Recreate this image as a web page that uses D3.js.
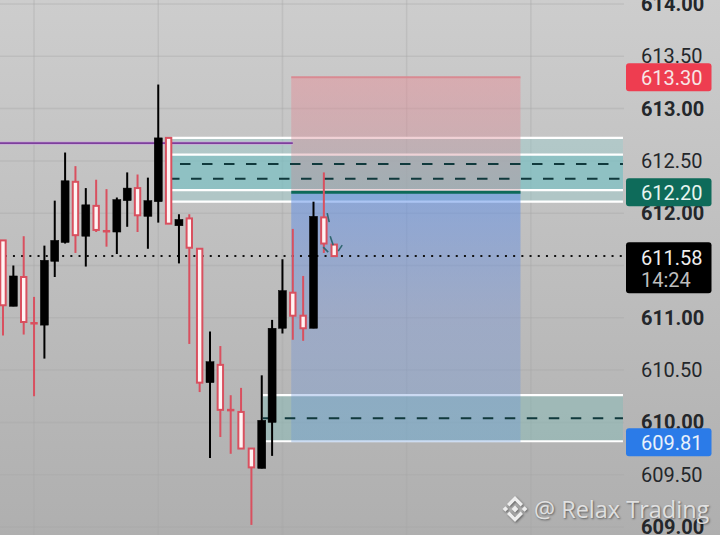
<!DOCTYPE html>
<html>
<head>
<meta charset="utf-8">
<script src="https://cdn.jsdelivr.net/npm/d3@7"></script>
<style>
  html, body { margin: 0; padding: 0; background: #bdbdbd; }
  svg { display: block; font-family: Roboto, sans-serif; }
</style>
</head>
<body>
<div id="chart"></div>
<script>
// candles, oldest first
const opens  = [611.12,611.40,610.96,610.95,611.55,611.74,612.31,611.79,612.08,611.84,611.83,612.13,612.24,611.98,612.12,612.72,611.90,611.94,611.67,610.38,610.58,610.12,610.12,609.75,609.57,610.02,610.90,611.26,611.02,610.90,611.97,611.71,611.59];
const closes = [611.74,611.11,611.39,610.95,610.93,611.54,611.72,612.30,611.78,612.07,611.83,611.82,612.12,612.24,611.97,612.11,612.72,611.88,611.95,611.66,610.38,610.55,610.12,610.10,609.75,609.56,610.00,610.90,611.24,611.02,610.90,611.96,611.70];
const highs  = [611.74,611.50,611.78,611.20,611.69,612.12,612.58,612.45,612.24,612.32,612.23,612.15,612.39,612.37,612.34,613.23,612.72,611.99,611.99,611.66,610.87,610.73,610.26,610.33,609.75,610.45,610.98,611.56,611.85,611.40,612.11,612.39,611.70];
const lows   = [610.83,611.11,610.84,610.25,610.61,611.39,611.71,611.62,611.49,611.82,611.68,611.61,611.87,611.82,611.66,611.91,611.90,611.52,610.75,610.29,609.66,609.86,609.70,609.75,609.02,609.56,609.68,610.85,610.79,610.78,610.90,611.62,611.59];
// red = up bar here
const upFlags = [1,0,1,1,0,0,0,1,0,1,1,0,0,1,0,0,1,0,1,1,0,1,1,1,1,0,0,0,1,1,0,1,1];

const priceTicks = [614,613.5,613,612.5,612,611.5,611,610.5,610,609.5,609];
const hiddenTicks = [611.5];
const gridBars = [3,15,27,39,51];

const lastPrice = 611.58;
const lastPriceLine = 611.59;
const countdown = "14:24";
const stopPrice = 613.30;
const entryPrice = 612.20;
const targetPrice = 609.81;

// zones: [barFrom, barTo, top, bottom]
const upperZone = [16.3, 59.9, 612.72, 612.11];
const upperZoneInner = [16.3, 59.9, 612.56, 612.22];
const upperDashes = [612.47, 612.33];
const lowerZone = [25.1, 59.9, 610.26, 609.82];
const lowerDash = 610.04;
const purpleLevel = 612.67;

const W = 720, H = 535;
const plotRight = 624;

const x = d3.scaleLinear().domain([0, 32]).range([3, 334.2]);
const y = d3.scaleLinear().domain([609, 614]).range([527, 4]);

const svg = d3.select("#chart").append("svg").attr("width", W).attr("height", H);
const defs = svg.append("defs");

function vGradient(id, stops) {
  const g = defs.append("linearGradient").attr("id", id)
    .attr("x1", 0).attr("x2", 0).attr("y1", 0).attr("y2", 1);
  stops.forEach(s => g.append("stop").attr("offset", s[0]).attr("stop-color", s[1]).attr("stop-opacity", s[2]));
}
vGradient("bg", [[0, "#cdcdcd", 1], [1, "#afafaf", 1]]);
vGradient("redBox", [[0, "#e98a94", 0.46], [1, "#c98a96", 0.34]]);
vGradient("blueBox", [[0, "#5a8ce8", 0.52], [0.5, "#6a8cd8", 0.36], [1, "#6a98d8", 0.34]]);

svg.append("rect").attr("width", W).attr("height", H).attr("fill", "url(#bg)");

// grid
svg.append("g").selectAll("line").data(priceTicks).join("line")
  .attr("x1", 0).attr("x2", plotRight)
  .attr("y1", d => y(d)).attr("y2", d => y(d))
  .attr("stroke", "#a6a6a6").attr("stroke-opacity", 0.35).attr("stroke-width", 1.5);
svg.append("g").selectAll("line").data(gridBars).join("line")
  .attr("x1", d => x(d)).attr("x2", d => x(d))
  .attr("y1", 0).attr("y2", H)
  .attr("stroke", "#a6a6a6").attr("stroke-opacity", 0.35).attr("stroke-width", 1.5);

function zone(z, fill) {
  return svg.append("rect")
    .attr("x", x(z[0])).attr("width", x(z[1]) - x(z[0]))
    .attr("y", y(z[2])).attr("height", y(z[3]) - y(z[2]))
    .attr("fill", fill);
}
function hline(a, b, price, color, width, dash) {
  return svg.append("line")
    .attr("x1", x(a)).attr("x2", x(b))
    .attr("y1", y(price)).attr("y2", y(price))
    .attr("stroke", color).attr("stroke-width", width)
    .attr("stroke-dasharray", dash || null);
}

// support / resistance zones
zone(upperZone, "rgba(150,205,205,0.40)");
zone(upperZoneInner, "rgba(90,185,190,0.38)");
zone(lowerZone, "rgba(120,190,185,0.38)");
[upperZone[2], upperZoneInner[2], upperZoneInner[3], upperZone[3]].forEach(p =>
  hline(upperZone[0], upperZone[1], p, "#fff", 2.2));
[lowerZone[2], lowerZone[3]].forEach(p => hline(lowerZone[0], lowerZone[1], p, "#fff", 2.2));

// position box
const boxFrom = 27.85, boxTo = 50;
zone([boxFrom, boxTo, stopPrice, entryPrice], "url(#redBox)");
zone([boxFrom, boxTo, entryPrice, targetPrice], "url(#blueBox)");
hline(boxFrom, boxTo, stopPrice, "#d98a92", 2);
hline(boxFrom, boxTo, entryPrice, "#0d6a58", 3);

// purple level
hline(-3, 28, purpleLevel, "#c9a8d8", 3.4);
hline(-3, 28, purpleLevel, "#7d3f9c", 1.8);

// dashed levels
hline(17.1, 59.9, upperDashes[0], "#10393c", 2, "10.5 11.5");
hline(16.3, 59.9, upperDashes[1], "#10393c", 2, "10.5 11.5").attr("stroke-dashoffset", 2.7 + 0);
hline(25.1, 59.9, lowerDash, "#10393c", 2, "10.5 11.5");

// last price dotted
hline(-3, 59.9, lastPriceLine, "#111", 2, "2 6.2");

// candles
const candles = opens.map((o, i) => ({ i, o, c: closes[i], h: highs[i], l: lows[i], up: upFlags[i] === 1 }));
const RED = "#d9505f";
const gc = svg.append("g").selectAll("g").data(candles).join("g");
gc.append("line")
  .attr("x1", d => x(d.i)).attr("x2", d => x(d.i))
  .attr("y1", d => y(d.h)).attr("y2", d => y(d.l))
  .attr("stroke", d => d.up ? RED : "#000").attr("stroke-width", 2);
gc.append("rect")
  .attr("x", d => x(d.i) - (d.up ? 5.4 : 8) / 2)
  .attr("width", d => d.up ? 5.4 : 8)
  .attr("y", d => y(Math.max(d.o, d.c)))
  .attr("height", d => Math.max(0.5, Math.abs(y(d.o) - y(d.c))))
  .attr("fill", d => d.up ? "#fff4f4" : "#000")
  .attr("stroke", d => d.up ? RED : "#000")
  .attr("stroke-width", d => d.up ? 2 : 0.5);

// cursor ticks by the last bar
const cursorMarks = [[-11, -10, -6, -5], [-4, -21, -1, -12], [4, -6, 8, -12], [-7, -44, -5, -35]];
svg.append("g").attr("transform", `translate(${x(32)},${y(lastPrice)})`)
  .selectAll("line").data(cursorMarks).join("line")
  .attr("x1", d => d[0]).attr("y1", d => d[1]).attr("x2", d => d[2]).attr("y2", d => d[3])
  .attr("stroke", "#2f6670").attr("stroke-width", 1.6);

// price axis
const axis = d3.axisRight(y).tickValues(priceTicks.filter(t => !hiddenTicks.includes(t)))
  .tickFormat(d3.format(".2f")).tickSize(0).tickPadding(0);
const axisG = svg.append("g").attr("transform", "translate(641,0)").call(axis);
axisG.select(".domain").remove();
axisG.selectAll("text")
  .attr("font-family", "Roboto, sans-serif").attr("font-size", 20)
  .attr("font-weight", d => d % 1 === 0 ? 700 : 400)
  .attr("fill", "#24272b");

// price tags
function tag(price, fill, label, h, color) {
  const g = svg.append("g");
  g.append("rect").attr("x", 626).attr("width", 85.5)
    .attr("y", y(price) - h / 2).attr("height", h).attr("rx", 3).attr("fill", fill);
  g.append("text").attr("x", 641).attr("y", y(price) + 7.5)
    .attr("font-size", 20).attr("fill", color).text(label);
}
tag(stopPrice, "#ee3d50", stopPrice.toFixed(2), 28, "#f7e6e6");
tag(entryPrice, "#0e6b5a", entryPrice.toFixed(2), 28, "#e8f5f0");
tag(targetPrice, "#2b7be8", targetPrice.toFixed(2), 28, "#e8f1fb");

svg.append("rect").attr("x", 626).attr("width", 85.5)
  .attr("y", y(lastPrice) - 15).attr("height", 51).attr("rx", 3).attr("fill", "#000");
svg.append("text").attr("x", 641).attr("y", y(lastPrice) + 8)
  .attr("font-size", 20).attr("fill", "#eee").text(lastPrice.toFixed(2));
svg.append("text").attr("x", 641).attr("y", y(lastPrice) + 30)
  .attr("font-size", 20).attr("fill", "#bdbdbd").text(countdown);

// watermark
const logoParts = [
  "M0,-13L8,-5L5.6,-2.6L0,-8.2L-5.6,-2.6L-8,-5Z",
  "M0,13L8,5L5.6,2.6L0,8.2L-5.6,2.6L-8,5Z",
  "M0,-3.4L3.4,0L0,3.4L-3.4,0Z",
  "M-9.6,-2.8L-6.8,0L-9.6,2.8L-12.4,0Z",
  "M9.6,-2.8L12.4,0L9.6,2.8L6.8,0Z"
];
svg.append("g").attr("transform", "translate(515,509)")
  .style("filter", "drop-shadow(1px 1px 1px rgba(0,0,0,0.45))")
  .selectAll("path").data(logoParts).join("path")
  .attr("d", d => d).attr("fill", "#eeeeee");
svg.append("text").attr("x", 534).attr("y", 518)
  .attr("font-family", "'Open Sans', sans-serif").attr("font-size", 23.5)
  .attr("fill", "#e9e9e9").attr("fill-opacity", 0.92)
  .style("text-shadow", "1px 1px 2px rgba(0,0,0,0.5)")
  .text("@ Relax Trading");
</script>
</body>
</html>
